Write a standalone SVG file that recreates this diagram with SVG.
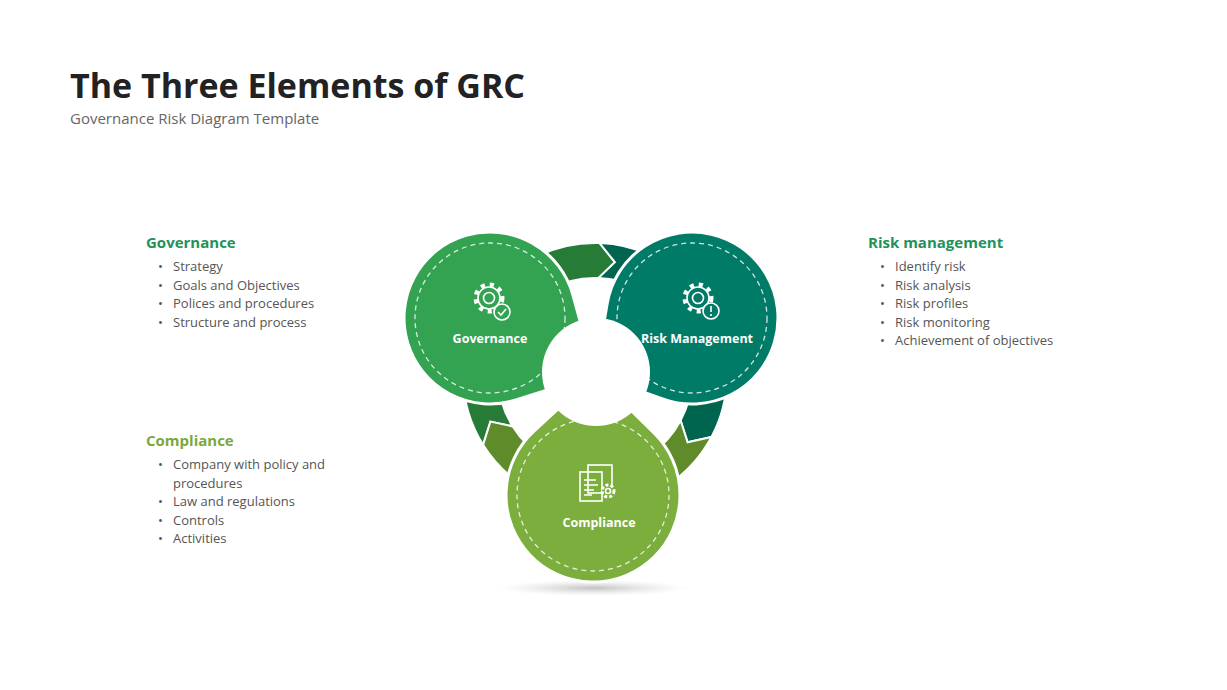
<svg xmlns="http://www.w3.org/2000/svg" width="1227" height="690" viewBox="0 0 1227 690">
<defs>
<radialGradient id="sh"><stop offset="0" stop-color="#999" stop-opacity="0.6"/><stop offset="1" stop-color="#ccc" stop-opacity="0"/></radialGradient>
</defs>
<style>
.t{font-family:"Open Sans","Liberation Sans",sans-serif}
.h{font-weight:bold;font-size:15px}
.b{font-size:13px;fill:#555}
.lbl{font-family:"Open Sans","Liberation Sans",sans-serif;font-weight:bold;font-size:12.5px;fill:#fff;text-anchor:middle}
.dash{fill:none;stroke:#fff;stroke-opacity:0.8;stroke-width:1.3;stroke-dasharray:5 4}
.ic{fill:none;stroke:#fff;stroke-width:1.6}
.teeth{fill:none;stroke:#fff;stroke-width:5;stroke-dasharray:4 4.8}
.seg{stroke:#fff;stroke-width:2}
</style>
<rect width="1227" height="690" fill="#fff"/>
<text class="t" x="70" y="98" font-size="34" font-weight="bold" fill="#222">The Three Elements of GRC</text>
<text class="t" x="70" y="124" font-size="15" fill="#666">Governance Risk Diagram Template</text>

<g id="governance-text" class="t">
<text x="146" y="248" class="h" fill="#21925a">Governance</text>
<g class="b"><text x="158" y="271">•</text><text x="173" y="271">Strategy</text>
<text x="158" y="290">•</text><text x="173" y="290">Goals and Objectives</text>
<text x="158" y="308">•</text><text x="173" y="308">Polices and procedures</text>
<text x="158" y="327">•</text><text x="173" y="327">Structure and process</text></g>
</g>
<g id="risk-text" class="t">
<text x="868" y="248" class="h" fill="#21925a">Risk management</text>
<g class="b"><text x="880" y="271">•</text><text x="895" y="271">Identify risk</text>
<text x="880" y="290">•</text><text x="895" y="290">Risk analysis</text>
<text x="880" y="308">•</text><text x="895" y="308">Risk profiles</text>
<text x="880" y="327">•</text><text x="895" y="327">Risk monitoring</text>
<text x="880" y="345">•</text><text x="895" y="345">Achievement of objectives</text></g>
</g>
<g id="compliance-text" class="t">
<text x="146" y="446" class="h" fill="#7aa83a">Compliance</text>
<g class="b"><text x="158" y="469">•</text><text x="173" y="469">Company with policy and</text>
<text x="173" y="488">procedures</text>
<text x="158" y="506">•</text><text x="173" y="506">Law and regulations</text>
<text x="158" y="525">•</text><text x="173" y="525">Controls</text>
<text x="158" y="543">•</text><text x="173" y="543">Activities</text></g>
</g>

<ellipse cx="593" cy="588" rx="95" ry="8" fill="url(#sh)"/>

<g id="connectors">
<path class="seg" fill="#267c36" d="M483.1 444.9 A132 132 0 0 1 599.6 243.1 L614.9 262.2 L598.4 278.1 A97 97 0 0 0 512.7 426.4 L490.4 421.6 Z"/>
<path class="seg" fill="#00654f" d="M599.6 243.1 A132 132 0 0 1 711.5 437 L687.6 442.3 L680.6 420.5 A97 97 0 0 0 598.4 278.1 L614.9 262.2 Z"/>
<path class="seg" fill="#5f8b2b" d="M711.5 437 A132 132 0 0 1 483.1 444.9 L490.4 421.6 L512.7 426.4 A97 97 0 0 0 680.6 420.5 L687.6 442.3 Z"/>
</g>

<g id="node-governance">
<path fill="#33a352" stroke="#fff" stroke-width="3" d="M572.9 295 L595 375 L515.9 400 A86 86 0 1 1 572.9 295 Z"/>
<circle class="dash" cx="490" cy="318" r="75"/>
<circle class="teeth" cx="489" cy="298" r="13"/><circle cx="489" cy="298" r="11" fill="#33a352" stroke="#fff" stroke-width="1.6"/><circle class="ic" cx="489" cy="298" r="5.5"/>
<circle cx="502" cy="312" r="8" fill="#33a352" stroke="#fff" stroke-width="1.6"/><path class="ic" d="M498 312 l3 3 l5 -6"/>
<text class="lbl" x="490" y="343">Governance</text>
</g>
<g id="node-risk">
<path fill="#007b68" stroke="#fff" stroke-width="3" d="M663.3 399.1 L595 375 L607.2 303.5 A86 86 0 1 1 663.3 399.1 Z"/>
<circle class="dash" cx="692" cy="318" r="75"/>
<circle class="teeth" cx="698" cy="298" r="13"/><circle cx="698" cy="298" r="11" fill="#007b68" stroke="#fff" stroke-width="1.6"/><circle class="ic" cx="698" cy="298" r="5.5"/>
<circle cx="711" cy="311" r="8" fill="#007b68" stroke="#fff" stroke-width="1.6"/><path class="ic" d="M711 306 v6 M711 314 v2"/>
<text class="lbl" x="697" y="343">Risk Management</text>
</g>
<g id="node-compliance">
<path fill="#7cae3e" stroke="#fff" stroke-width="3" d="M534.2 430.9 L595 375 L654 433 A87 87 0 1 1 534.2 430.9 Z"/>
<circle class="dash" cx="593" cy="495" r="76"/>
<rect class="ic" x="588" y="465" width="24" height="28"/><rect class="ic" x="580" y="472" width="22" height="29" fill="#7cae3e"/>
<path class="ic" d="M584 480 h12 M584 485 h14 M584 490 h10 M584 495 h8"/>
<circle cx="608" cy="491" r="6" fill="#7cae3e" stroke="#fff" stroke-width="3" stroke-dasharray="3 2"/><circle class="ic" cx="608" cy="491" r="2.5"/>
<text class="lbl" x="599" y="527">Compliance</text>
</g>
<circle cx="596" cy="372" r="54" fill="#fff"/>
</svg>
